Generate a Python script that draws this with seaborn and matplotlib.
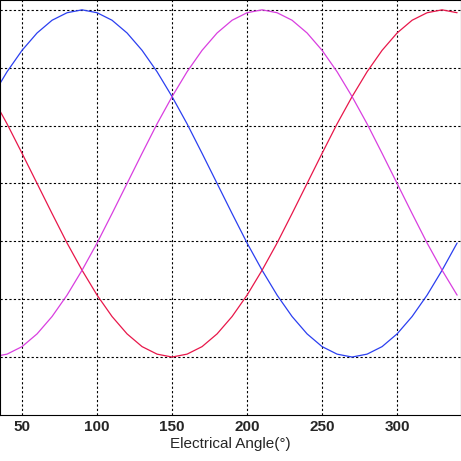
import matplotlib
matplotlib.use("Agg")
import matplotlib.pyplot as plt
import seaborn as sns
import pandas as pd

# Electrical angle (deg) and the three phase signals
angle = list(range(30, 341, 10))
phase_a = [1.5, 1.93, 2.3, 2.6, 2.82, 2.95, 3, 2.95, 2.82, 2.6, 2.3, 1.93, 1.5, 1.03, 0.52, 0,
           -0.52, -1.03, -1.5, -1.93, -2.3, -2.6, -2.82, -2.95, -3, -2.95, -2.82, -2.6, -2.3, -1.93, -1.5, -1.03]
phase_b = [1.5, 1.03, 0.52, 0, -0.52, -1.03, -1.5, -1.93, -2.3, -2.6, -2.82, -2.95, -3, -2.95, -2.82, -2.6,
           -2.3, -1.93, -1.5, -1.03, -0.52, 0, 0.52, 1.03, 1.5, 1.93, 2.3, 2.6, 2.82, 2.95, 3, 2.95]
phase_c = [-3, -2.95, -2.82, -2.6, -2.3, -1.93, -1.5, -1.03, -0.52, 0, 0.52, 1.03, 1.5, 1.93, 2.3, 2.6,
           2.82, 2.95, 3, 2.95, 2.82, 2.6, 2.3, 1.93, 1.5, 1.03, 0.52, 0, -0.52, -1.03, -1.5, -1.93]

df = pd.DataFrame({"angle": angle, "A": phase_a, "B": phase_b, "C": phase_c})

sns.set_style("white")
plt.rcParams["font.family"] = ["Liberation Sans", "DejaVu Sans"]

fig = plt.figure(figsize=(4.61, 4.61), dpi=100)
ax = fig.add_axes([0, 0.1, 1, 0.9])

sns.lineplot(data=df, x="angle", y="A", color="#2b3ff0", lw=0.9, ax=ax)
sns.lineplot(data=df, x="angle", y="B", color="#e8174a", lw=0.9, ax=ax)
sns.lineplot(data=df, x="angle", y="C", color="#d93fe0", lw=0.9, ax=ax)

ax.set_xlim(35.3, 342.6)
ax.set_ylim(-4, 3.17)
ax.set_xticks([50, 100, 150, 200, 250, 300])
ax.set_yticks([-3, -2, -1, 0, 1, 2, 3])
ax.set_yticklabels([])
ax.tick_params(axis="x", labelsize=11, direction="in", length=4, pad=4)
for lab in ax.get_xticklabels():
    lab.set_fontweight("bold")
ax.grid(True, color="black", linestyle=(0, (2, 2)), linewidth=0.8)
ax.set_xlabel("Electrical Angle(°)", fontsize=11, labelpad=2)
ax.set_ylabel("")
for s in ax.spines.values():
    s.set_color("black")

fig.savefig("out.png", dpi=100)
